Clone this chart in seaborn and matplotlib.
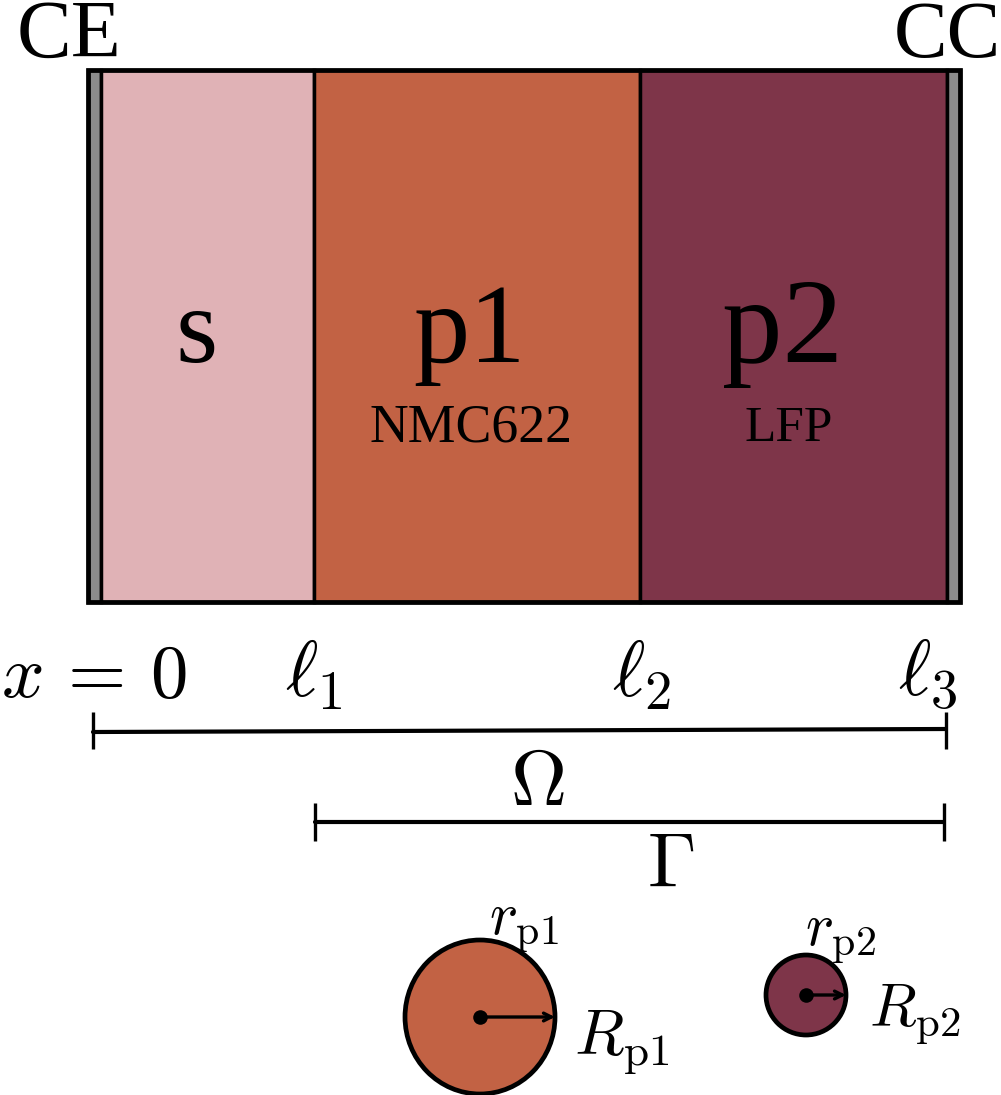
import seaborn as sns
import pandas as pd
import matplotlib.pyplot as plt
from matplotlib.patches import Rectangle, Ellipse

# Cell layout, in picture pixels
region_names = ['CE', 's', 'p1', 'p2', 'CC']
region_left = [88, 101, 314, 640, 947]
region_right = [101, 314, 640, 947, 960]
region_colors = ['#8c8c8c', '#e0b2b6', '#c26244', '#7e3549', '#8c8c8c']
cell_top = 70
cell_bottom = 602

# Domain brackets
bracket_names = ['Omega', 'Gamma']
bracket_x0 = [93, 315]
bracket_x1 = [946, 944]
bracket_y0 = [732, 822]
bracket_y1 = [729, 822]
tick_top = [712, 803]
tick_bottom = [749, 841]

# Particles
particle_x = [480, 806]
particle_y = [1017, 995]
particle_rx = [75, 40]
particle_ry = [77, 40]
particle_colors = ['#c26244', '#7e3549']

sns.set_theme(style='white')
plt.rcParams['font.family'] = ['Liberation Serif', 'DejaVu Serif']
plt.rcParams['mathtext.fontset'] = 'cm'
plt.rcParams['text.color'] = 'black'

fig, ax = plt.subplots(figsize=(10.01, 10.95), dpi=100)
ax.set_position([0, 0, 1, 1])
ax.set_xlim(0, 1001)
ax.set_ylim(1095, 0)
ax.axis('off')

##############################
# Cell
##############################
for l, r, c in zip(region_left, region_right, region_colors):
    ax.add_patch(Rectangle((l, cell_top), r - l, cell_bottom - cell_top, facecolor=c, edgecolor='black', linewidth=2.5, zorder=2))
ax.add_patch(Rectangle((region_left[0], cell_top), region_right[-1] - region_left[0], cell_bottom - cell_top, fill=False, edgecolor='black', linewidth=3.4, zorder=3))

ax.text(69, 57, 'CE', fontsize=59, ha='center', va='baseline')
ax.text(947, 57, 'CC', fontsize=58, ha='center', va='baseline')
ax.text(197, 362, 's', fontsize=78, ha='center', va='baseline')
ax.text(469, 362, 'p1', fontsize=81, ha='center', va='baseline')
ax.text(782, 362, 'p2', fontsize=87, ha='center', va='baseline')
ax.text(471, 441, 'NMC622', fontsize=38.7, ha='center', va='baseline')
ax.text(789, 441, 'LFP', fontsize=37, ha='center', va='baseline')

##############################
# Domain labels and brackets
##############################
ax.text(94, 697, r'$x\,=\,0$', fontsize=54, ha='center', va='baseline')
ax.text(314, 697, r'$\ell_1$', fontsize=56, ha='center', va='baseline')
ax.text(641, 697, r'$\ell_2$', fontsize=56, ha='center', va='baseline')
ax.text(928, 695, r'$\ell_3$', fontsize=56, ha='center', va='baseline')

for name, x0, x1, y0, y1, t0, t1 in zip(bracket_names, bracket_x0, bracket_x1, bracket_y0, bracket_y1, tick_top, tick_bottom):
    seg = pd.DataFrame({'x': [x0, x1], 'y': [y0, y1]})
    sns.lineplot(data=seg, x='x', y='y', color='black', linewidth=3, ax=ax, legend=False, estimator=None, sort=False)
    ax.plot([x0, x0], [t0, t1], color='black', linewidth=2.4, solid_capstyle='butt')
    ax.plot([x1, x1], [t0, t1], color='black', linewidth=2.4, solid_capstyle='butt')
ax.set_xlabel('')
ax.set_ylabel('')

ax.text(537, 805, r'$\Omega$', fontsize=56, ha='center', va='baseline')
ax.text(671, 887, r'$\Gamma$', fontsize=56, ha='center', va='baseline')

##############################
# Particles
##############################
for x, y, rx, ry, c in zip(particle_x, particle_y, particle_rx, particle_ry, particle_colors):
    ax.add_patch(Ellipse((x, y), 2 * rx, 2 * ry, facecolor=c, edgecolor='black', linewidth=3.4, zorder=2))
    ax.annotate('', xy=(x + rx, y), xytext=(x, y), zorder=4,
                arrowprops=dict(arrowstyle='->', color='black', linewidth=2.4, shrinkA=0, shrinkB=0, mutation_scale=14))

dots = pd.DataFrame({'x': particle_x, 'y': particle_y})
sns.scatterplot(data=dots, x='x', y='y', color='black', s=110, linewidth=0, ax=ax, legend=False, zorder=5)
ax.set_xlabel('')
ax.set_ylabel('')

ax.text(524, 934, r'$r_{\mathrm{p1}}$', fontsize=43, ha='center', va='baseline')
ax.text(841, 945, r'$r_{\mathrm{p2}}$', fontsize=43, ha='center', va='baseline')
ax.text(622, 1055, r'$R_{\mathrm{p1}}$', fontsize=46.5, ha='center', va='baseline')
ax.text(915, 1026, r'$R_{\mathrm{p2}}$', fontsize=44, ha='center', va='baseline')

ax.set_xlim(0, 1001)
ax.set_ylim(1095, 0)
fig.savefig('out.png', dpi=100)
